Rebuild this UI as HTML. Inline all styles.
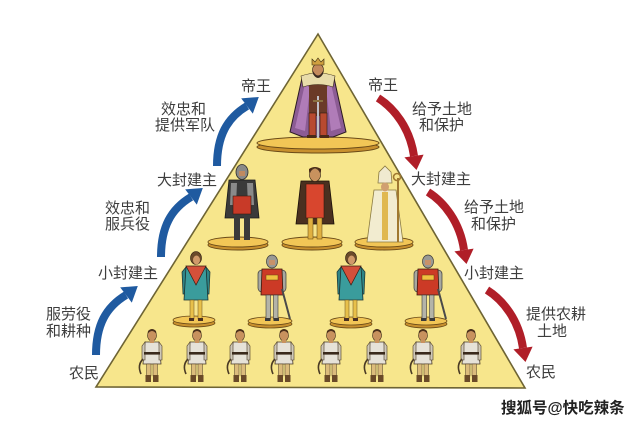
<!DOCTYPE html>
<html><head><meta charset="utf-8">
<style>
html,body{margin:0;padding:0;background:#fff;}
svg{display:block;}
text{font-family:"Liberation Sans","Noto Sans CJK SC",sans-serif;}
.lb{font-size:15px;fill:#3d3d3d;}
</style></head><body>
<svg width="640" height="424" viewBox="0 0 640 424" xmlns="http://www.w3.org/2000/svg">
<defs>
 <g id="blueArrow">
  <path d="M0,0 C0,-30 10,-48 30,-60" stroke="#1f5aa0" stroke-width="8" fill="none"/>
  <polygon points="24.2,-67.6 35.8,-52.4 41.8,-69" fill="#1f5aa0"/>
 </g>
 <g id="redArrow">
  <path d="M0,0 C16,10 32,30 36,58" stroke="#b01e28" stroke-width="8" fill="none"/>
  <polygon points="26.4,59.4 45.6,56.6 38.5,72" fill="#b01e28"/>
 </g>
 <g id="peasant">
  <path d="M-7,12 L7,12 L9,34 L-9,34Z" fill="#e6e2d8" stroke="#4a3a24" stroke-width="0.8"/>
  <path d="M-7,12 L-10,16 L-10,30 L-7,30Z" fill="#cfc8b8" stroke="#4a3a24" stroke-width="0.6"/>
  <path d="M7,12 L10,16 L10,30 L7,30Z" fill="#cfc8b8" stroke="#4a3a24" stroke-width="0.6"/>
  <rect x="-8" y="22" width="16" height="2.6" fill="#3a2a1c"/>
  <rect x="-5.5" y="34" width="4.5" height="12" fill="#dcbc7c" stroke="#4a3a24" stroke-width="0.5"/>
  <rect x="1" y="34" width="4.5" height="12" fill="#dcbc7c" stroke="#4a3a24" stroke-width="0.5"/>
  <rect x="-6.5" y="45" width="5.5" height="7" fill="#6a4a28"/>
  <rect x="1" y="45" width="5.5" height="7" fill="#6a4a28"/>
  <ellipse cx="0" cy="5.5" rx="4.5" ry="5.5" fill="#c8925e" stroke="#3a2a18" stroke-width="0.6"/>
  <path d="M-4.5,4 Q0,-2 4.5,4 L4,1 Q0,-3 -4,1Z" fill="#4a301c"/>
  <rect x="-2" y="10" width="4" height="3" fill="#c8925e"/>
  <path d="M-9,29 Q-15,35 -11,44" stroke="#4a3a24" stroke-width="1.6" fill="none"/>
 </g>
 <g id="teal">
  <path d="M-10,15 L-14,20 L-13,42 L-9,42Z" fill="#2e8486" stroke="#1a3030" stroke-width="0.7"/>
  <path d="M10,15 L14,20 L13,42 L9,42Z" fill="#2e8486" stroke="#1a3030" stroke-width="0.7"/>
  <path d="M-10,15 L10,15 L12,48 L-12,48Z" fill="#3a9c9c" stroke="#1a3030" stroke-width="0.8"/>
  <polygon points="-10,14 10,14 0,33" fill="#d4503a" stroke="#3a1a10" stroke-width="0.7"/>
  <rect x="-6" y="48" width="4" height="19" fill="#e8c04a" stroke="#6a5020" stroke-width="0.5"/>
  <rect x="2" y="48" width="4" height="19" fill="#e8c04a" stroke="#6a5020" stroke-width="0.5"/>
  <rect x="-7" y="66" width="5" height="3" fill="#4a3020"/>
  <rect x="2" y="66" width="5" height="3" fill="#4a3020"/>
  <ellipse cx="0" cy="6" rx="5.5" ry="6.5" fill="#6a4a2a" stroke="#2a1a10" stroke-width="0.6"/>
  <ellipse cx="0.5" cy="8" rx="3.5" ry="4.5" fill="#d09a6a"/>
 </g>
 <g id="rknight">
  <rect x="-14" y="15" width="28" height="22" rx="4" fill="#a8a8a0" stroke="#3a3a3a" stroke-width="0.7"/>
  <path d="M-10,14 L10,14 L11,40 L-11,40Z" fill="#cc3a26" stroke="#3a1a10" stroke-width="0.8"/>
  <rect x="-6" y="20" width="12" height="5" fill="#f0c040" stroke="#6a4010" stroke-width="0.5"/>
  <rect x="-6" y="40" width="4.5" height="24" fill="#b4b4a8" stroke="#3a3a3a" stroke-width="0.6"/>
  <rect x="1.5" y="40" width="4.5" height="24" fill="#b4b4a8" stroke="#3a3a3a" stroke-width="0.6"/>
  <rect x="-7" y="63" width="5.5" height="3" fill="#3a3a3a"/>
  <rect x="1.5" y="63" width="5.5" height="3" fill="#3a3a3a"/>
  <line x1="10" y1="34" x2="18" y2="64" stroke="#4a4a4a" stroke-width="2"/>
  <ellipse cx="0" cy="6.5" rx="5.5" ry="6.5" fill="#9a9a94" stroke="#3a3a3a" stroke-width="0.7"/>
  <rect x="-3" y="5" width="6" height="5" fill="#c8926a"/>
 </g>
</defs>

<!-- pyramid -->
<polygon points="318,34 96,387 525,388" fill="#f7e68c" stroke="#6e6434" stroke-width="1.6"/>

<!-- emperor platform -->
<ellipse cx="318" cy="147" rx="61" ry="6" fill="#c8902e" stroke="#6a4a18" stroke-width="1"/>
<ellipse cx="318" cy="143" rx="61" ry="6" fill="#f2c656" stroke="#6a4a18" stroke-width="1"/>
<!-- emperor -->
<path d="M302,78 L334,78 L346,132 L333,137 L303,137 L290,132 Z" fill="#8c5c94" stroke="#2a1a20" stroke-width="1"/>
<path d="M305,84 L295,128 L305,131 L310,88Z" fill="#b07cb8"/>
<path d="M331,84 L341,128 L331,131 L326,88Z" fill="#b07cb8"/>
<rect x="309" y="84" width="18" height="32" fill="#6a3a28"/>
<rect x="309" y="113" width="7" height="23" fill="#b84a30" stroke="#2a1a10" stroke-width="0.6"/>
<rect x="320" y="113" width="7" height="23" fill="#b84a30" stroke="#2a1a10" stroke-width="0.6"/>
<rect x="307" y="135" width="9" height="3" fill="#4a2a18"/>
<rect x="320" y="135" width="9" height="3" fill="#4a2a18"/>
<path d="M301,76 Q318,70 335,76 L333,87 Q318,82 303,87Z" fill="#e8dcaa" stroke="#3a2a18" stroke-width="0.6"/>
<ellipse cx="318" cy="70" rx="5.5" ry="6.5" fill="#c48a5c" stroke="#2a1a10" stroke-width="0.6"/>
<path d="M313,71 Q318,80 323,71 L323,74 Q318,82 313,74Z" fill="#3a2a20"/>
<path d="M312,65 L312,59 L315,62 L318,58 L321,62 L324,59 L324,65Z" fill="#d0a040" stroke="#3a2a10" stroke-width="0.6"/>
<line x1="318" y1="96" x2="318" y2="138" stroke="#c0c0c8" stroke-width="2"/>
<line x1="313" y1="101" x2="323" y2="101" stroke="#8a7040" stroke-width="2"/>

<!-- row 2 platforms -->
<ellipse cx="238" cy="245" rx="30" ry="5" fill="#c8902e" stroke="#6a4a18" stroke-width="0.9"/>
<ellipse cx="238" cy="242" rx="30" ry="5" fill="#f2c656" stroke="#6a4a18" stroke-width="0.9"/>
<ellipse cx="312" cy="245" rx="30" ry="5" fill="#c8902e" stroke="#6a4a18" stroke-width="0.9"/>
<ellipse cx="312" cy="242" rx="30" ry="5" fill="#f2c656" stroke="#6a4a18" stroke-width="0.9"/>
<ellipse cx="384" cy="245" rx="29" ry="5" fill="#c8902e" stroke="#6a4a18" stroke-width="0.9"/>
<ellipse cx="384" cy="242" rx="29" ry="5" fill="#f2c656" stroke="#6a4a18" stroke-width="0.9"/>

<!-- knight row 2 -->
<path d="M229,180 L255,180 L259,218 L225,218Z" fill="#3a3a3a" stroke="#1a1a1a" stroke-width="0.8"/>
<path d="M231,183 L237,183 L236,205 L230,205Z" fill="#8a8a8a"/>
<path d="M247,183 L253,183 L254,205 L248,205Z" fill="#8a8a8a"/>
<rect x="233" y="196" width="18" height="18" fill="#c83a28" stroke="#3a1a10" stroke-width="0.6"/>
<rect x="234" y="217" width="6" height="23" fill="#3a3a3a"/>
<rect x="244" y="217" width="6" height="23" fill="#3a3a3a"/>
<ellipse cx="242" cy="172" rx="6" ry="7.5" fill="#8a8a88" stroke="#2a2a2a" stroke-width="0.8"/>
<rect x="239" y="171" width="6" height="5" fill="#c08a60"/>

<!-- noble row 2 -->
<path d="M301,181 L329,181 L334,224 L296,224Z" fill="#4a3020" stroke="#1a1008" stroke-width="0.8"/>
<rect x="306" y="184" width="18" height="34" fill="#d8462e" stroke="#3a1a10" stroke-width="0.6"/>
<rect x="308" y="218" width="5" height="21" fill="#e0b040" stroke="#5a4010" stroke-width="0.5"/>
<rect x="317" y="218" width="5" height="21" fill="#e0b040" stroke="#5a4010" stroke-width="0.5"/>
<ellipse cx="315" cy="175" rx="5.5" ry="6.5" fill="#c8925e" stroke="#2a1a10" stroke-width="0.6"/>
<path d="M309,173 Q315,163 321,173 L321,169 Q315,165 309,169Z" fill="#4a2a18"/>

<!-- bishop row 2 -->
<path d="M374,190 L396,190 L403,242 L367,242Z" fill="#f2ecd0" stroke="#8a7a40" stroke-width="0.8"/>
<rect x="382" y="192" width="6" height="48" fill="#e0b850"/>
<path d="M378,183 L379,172 L385,166 L391,172 L392,183Z" fill="#f0ead0" stroke="#8a7a40" stroke-width="0.8"/>
<ellipse cx="385" cy="187" rx="4" ry="4.5" fill="#d0a070"/>
<line x1="398" y1="178" x2="398" y2="242" stroke="#a07830" stroke-width="2"/>
<circle cx="397" cy="177" r="3.5" fill="none" stroke="#a07830" stroke-width="1.6"/>

<!-- row 3 platforms -->
<ellipse cx="194" cy="323" rx="21" ry="4" fill="#c8902e" stroke="#6a4a18" stroke-width="0.8"/>
<ellipse cx="194" cy="320" rx="21" ry="4" fill="#f2c656" stroke="#6a4a18" stroke-width="0.8"/>
<ellipse cx="270" cy="324" rx="22" ry="4" fill="#c8902e" stroke="#6a4a18" stroke-width="0.8"/>
<ellipse cx="270" cy="321" rx="22" ry="4" fill="#f2c656" stroke="#6a4a18" stroke-width="0.8"/>
<ellipse cx="351" cy="324" rx="21" ry="4" fill="#c8902e" stroke="#6a4a18" stroke-width="0.8"/>
<ellipse cx="351" cy="321" rx="21" ry="4" fill="#f2c656" stroke="#6a4a18" stroke-width="0.8"/>
<ellipse cx="426" cy="324" rx="21" ry="4" fill="#c8902e" stroke="#6a4a18" stroke-width="0.8"/>
<ellipse cx="426" cy="321" rx="21" ry="4" fill="#f2c656" stroke="#6a4a18" stroke-width="0.8"/>

<use href="#teal" transform="translate(196,252)"/>
<use href="#rknight" transform="translate(272,255)"/>
<use href="#teal" transform="translate(351,252)"/>
<use href="#rknight" transform="translate(428,255)"/>

<!-- peasants -->
<use href="#peasant" transform="translate(152,330)"/>
<use href="#peasant" transform="translate(197,330)"/>
<use href="#peasant" transform="translate(240,330)"/>
<use href="#peasant" transform="translate(284,330)"/>
<use href="#peasant" transform="translate(331,330)"/>
<use href="#peasant" transform="translate(377,330)"/>
<use href="#peasant" transform="translate(423,330)"/>
<use href="#peasant" transform="translate(471,330)"/>

<!-- arrows -->
<use href="#blueArrow" transform="translate(217,166)"/>
<use href="#blueArrow" transform="translate(161,257)"/>
<use href="#blueArrow" transform="translate(96,355)"/>
<use href="#redArrow" transform="translate(378,98)"/>
<use href="#redArrow" transform="translate(428,192)"/>
<use href="#redArrow" transform="translate(487,290)"/>

<!-- left labels -->
<text class="lb" x="241" y="91">帝王</text>
<text class="lb" x="161" y="114">效忠和</text>
<text class="lb" x="155" y="130">提供军队</text>
<text class="lb" x="157" y="185">大封建主</text>
<text class="lb" x="105" y="213">效忠和</text>
<text class="lb" x="105" y="229">服兵役</text>
<text class="lb" x="98" y="278">小封建主</text>
<text class="lb" x="46" y="319">服劳役</text>
<text class="lb" x="46" y="336">和耕种</text>
<text class="lb" x="69" y="378">农民</text>

<!-- right labels -->
<text class="lb" x="368" y="90">帝王</text>
<text class="lb" x="412" y="114">给予土地</text>
<text class="lb" x="419" y="130">和保护</text>
<text class="lb" x="411" y="184">大封建主</text>
<text class="lb" x="464" y="212">给予土地</text>
<text class="lb" x="471" y="229">和保护</text>
<text class="lb" x="464" y="278">小封建主</text>
<text class="lb" x="526" y="319">提供农耕</text>
<text class="lb" x="537" y="336">土地</text>
<text class="lb" x="526" y="377">农民</text>

<!-- watermark -->
<text x="501" y="413" style="font-size:15.5px;font-weight:bold;fill:#222;paint-order:stroke;stroke:#fff;stroke-width:2px;">搜狐号@快吃辣条</text>
</svg>
</body></html>
